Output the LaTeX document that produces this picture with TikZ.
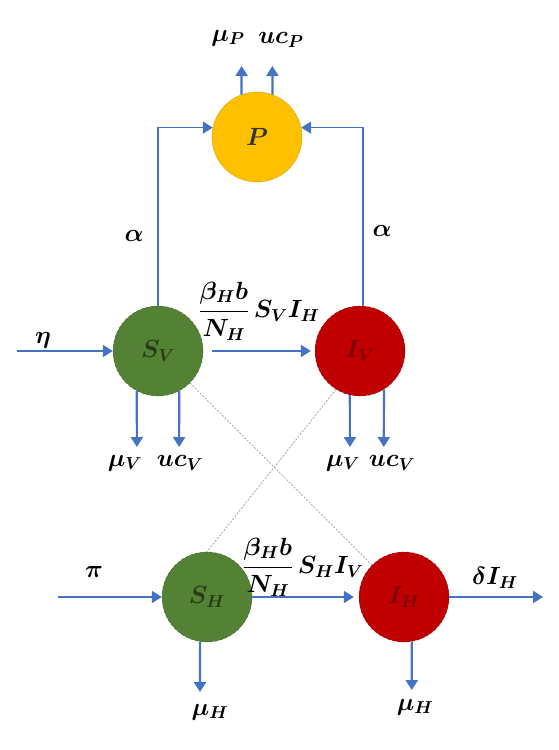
\documentclass[tikz,border=0pt]{standalone}
\usepackage{amsmath}
\usetikzlibrary{arrows.meta}

\definecolor{flowblue}{HTML}{4472C4}
\definecolor{susgreen}{HTML}{548235}
\definecolor{infred}{HTML}{C00000}
\definecolor{predyellow}{HTML}{FFC000}

\begin{document}
\begin{tikzpicture}[x=1pt, y=-1pt, font=\fontsize{26}{30}\selectfont\boldmath]
\useasboundingbox (0, 0) rectangle (559, 750);

\begin{scope}[every node/.style={circle, minimum size=90pt, inner sep=0pt, thin}]
    \node (p) at (257, 137) [fill=predyellow, draw=predyellow!85!black, text=black!80] {$P$};

    \node (sv) at (158, 351) [fill=susgreen, draw=susgreen!70!black, densely dashed, text=susgreen!45!black] {$S_V$};
    \node (iv) at (360, 351) [fill=infred, draw=infred!70!black, densely dashed, text=infred!65!black] {$I_V$};

    \node (sh) at (207, 597) [fill=susgreen, draw=susgreen!70!black, densely dashed, text=susgreen!45!black] {$S_H$};
    \node (ih) at (404, 597) [fill=infred, draw=infred!70!black, densely dashed, text=infred!65!black] {$I_H$};
\end{scope}

% free ends
\coordinate (etain) at (17, 351);
\coordinate (piin) at (58, 597);
\coordinate (deltaout) at (543, 597);
\coordinate (mupend) at (241.6, 66);
\coordinate (ucpend) at (272.4, 66);
\coordinate (svmuend) at (136.9, 447);
\coordinate (svucend) at (179.1, 447);
\coordinate (ivmuend) at (349.9, 447);
\coordinate (ivucend) at (383.8, 447);
\coordinate (shmuend) at (200, 692);
\coordinate (ihmuend) at (411.8, 690);

\begin{scope}[every node/.style={inner sep=0pt}]
    \node (mup) at (228, 38) {$\mu_P$};
    \node (ucp) at (281, 40) {$uc_P$};
    \node (alphal) at (134, 236) {$\alpha$};
    \node (alphar) at (382, 231) {$\alpha$};
    \node (eta) at (43, 340) {$\eta$};
    \node (rateV) at (259, 311) {$\dfrac{\beta_H b}{N_H}\,S_V I_H$};
    \node (svmu) at (125, 463) {$\mu_V$};
    \node (svuc) at (180, 463) {$uc_V$};
    \node (ivmu) at (343, 463) {$\mu_V$};
    \node (ivuc) at (392, 463) {$uc_V$};
    \node (pi) at (94, 572) {$\pi$};
    \node (rateH) at (303, 567) {$\dfrac{\beta_H b}{N_H}\,S_H I_V$};
    \node (delta) at (495, 578) {$\delta I_H$};
    \node (shmu) at (210, 712) {$\mu_H$};
    \node (ihmu) at (415, 707) {$\mu_H$};
\end{scope}

\begin{scope}[>={Triangle[width=12pt, length=10pt]},
              every edge/.style={draw=flowblue, line width=2.2pt}]
    \path [->] (etain) edge (sv.west);
    \path [->] (sv) edge [shorten <=9pt, shorten >=4pt] (iv);
    \path [->] (piin) edge (sh.west);
    \path [->] (sh) edge [shorten >=5pt] (ih);
    \path [->] (ih) edge (deltaout);

    \path [->] (p.110) edge (mupend);
    \path [->] (p.70) edge (ucpend);
    \path [->] (sv.242) edge (svmuend);
    \path [->] (sv.298) edge (svucend);
    \path [->] (iv.257) edge (ivmuend);
    \path [->] (iv.302) edge (ivucend);
    \path [->] (sh.261) edge (shmuend);
    \path [->] (ih.280) edge (ihmuend);

    \draw [->, draw=flowblue, line width=1.5pt] (sv.north) |- (p.168);
    \draw [->, draw=flowblue, line width=1.5pt] (iv.86) |- (p.12);
\end{scope}

% contact lines
\begin{scope}[draw=gray!65, line width=0.9pt, dash pattern=on 2pt off 1.5pt]
    \draw (sv.-45) -- (ih.135);
    \draw (iv.238) -- (sh.90);
\end{scope}
\end{tikzpicture}
\end{document}
